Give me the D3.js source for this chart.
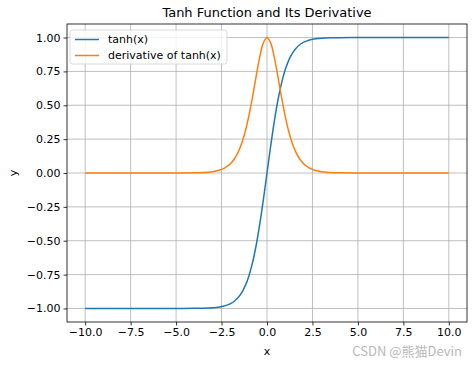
<!DOCTYPE html>
<html>
<head>
<meta charset="utf-8">
<script src="https://cdn.jsdelivr.net/npm/d3@7"></script>
<style>
  body { margin: 0; background: #fff; }
  svg text { font-family: "DejaVu Sans", sans-serif; }
</style>
</head>
<body>
<svg id="chart" width="474" height="365"></svg>
<script>
// values
const xValues = [-10, -9, -8, -7, -6, -5, -4, -3.5, -3, -2.8, -2.6, -2.4, -2.2, -2, -1.8, -1.6, -1.4, -1.2, -1, -0.8, -0.6, -0.4, -0.2,
  0, 0.2, 0.4, 0.6, 0.8, 1, 1.2, 1.4, 1.6, 1.8, 2, 2.2, 2.4, 2.6, 2.8, 3, 3.5, 4, 5, 6, 7, 8, 9, 10];
const tanhValues = [-1, -1, -1, -1, -1, -0.9999, -0.9993, -0.9982, -0.9951, -0.9926, -0.989, -0.9837, -0.9757, -0.964, -0.9468, -0.9217, -0.8854, -0.8337, -0.7616, -0.664, -0.537, -0.3799, -0.1974,
  0, 0.1974, 0.3799, 0.537, 0.664, 0.7616, 0.8337, 0.8854, 0.9217, 0.9468, 0.964, 0.9757, 0.9837, 0.989, 0.9926, 0.9951, 0.9982, 0.9993, 0.9999, 1, 1, 1, 1, 1];
const derivValues = [0, 0, 0, 0, 0, 0.0002, 0.0013, 0.0036, 0.0099, 0.0148, 0.0219, 0.0324, 0.048, 0.0707, 0.1036, 0.1505, 0.2161, 0.305, 0.42, 0.5591, 0.7116, 0.8556, 0.961,
  1, 0.961, 0.8556, 0.7116, 0.5591, 0.42, 0.305, 0.2161, 0.1505, 0.1036, 0.0707, 0.048, 0.0324, 0.0219, 0.0148, 0.0099, 0.0036, 0.0013, 0.0002, 0, 0, 0, 0, 0];
const xTicks = [-10, -7.5, -5, -2.5, 0, 2.5, 5, 7.5, 10];
const yTicks = [-1, -0.75, -0.5, -0.25, 0, 0.25, 0.5, 0.75, 1];
const seriesNames = ["tanh(x)", "derivative of tanh(x)"];
const seriesColors = ["#1f77b4", "#ff7f0e"];

const svg = d3.select("#chart");
const pLeft = 67, pRight = 467, pTop = 24, pBottom = 322;

const x = d3.scaleLinear().domain([-11, 11]).range([pLeft, pRight]);
const y = d3.scaleLinear().domain([-1.1, 1.1]).range([pBottom, pTop]);

// grid
svg.append("g").selectAll("line").data(xTicks).enter().append("line")
    .attr("x1", d => x(d)).attr("x2", d => x(d))
    .attr("y1", pTop).attr("y2", pBottom)
    .attr("stroke", "#b0b0b0").attr("stroke-width", 0.8);
svg.append("g").selectAll("line").data(yTicks).enter().append("line")
    .attr("x1", pLeft).attr("x2", pRight)
    .attr("y1", d => y(d)).attr("y2", d => y(d))
    .attr("stroke", "#b0b0b0").attr("stroke-width", 0.8);

// curves
const series = [tanhValues, derivValues];
const line = d3.line()
    .x((d, i) => x(xValues[i]))
    .y(d => y(d))
    .curve(d3.curveCatmullRom.alpha(0.5));

series.forEach((vals, k) => {
    svg.append("path")
        .attr("d", line(vals))
        .attr("fill", "none")
        .attr("stroke", seriesColors[k])
        .attr("stroke-width", 1.5);
});

// axes
const fmtX = d => d3.format(".1f")(d).replace("-", "\u2212");
const fmtY = d => d3.format(".2f")(d).replace("-", "\u2212");

const xAxis = svg.append("g")
    .attr("transform", `translate(0,${pBottom})`)
    .call(d3.axisBottom(x).tickValues(xTicks).tickFormat(fmtX).tickSizeOuter(0).tickSize(3.5).tickPadding(3));
const yAxis = svg.append("g")
    .attr("transform", `translate(${pLeft},0)`)
    .call(d3.axisLeft(y).tickValues(yTicks).tickFormat(fmtY).tickSizeOuter(0).tickSize(3.5).tickPadding(3));

[xAxis, yAxis].forEach(a => {
    a.select(".domain").remove();
    a.selectAll("line").attr("stroke", "#000").attr("stroke-width", 0.8);
    a.selectAll("text").attr("fill", "#000").style("font-size", "11px");
});

// frame
svg.append("rect")
    .attr("x", pLeft).attr("y", pTop)
    .attr("width", pRight - pLeft).attr("height", pBottom - pTop)
    .attr("fill", "none").attr("stroke", "#000").attr("stroke-width", 0.8);

// labels
svg.append("text")
    .attr("x", (pLeft + pRight) / 2).attr("y", 17)
    .attr("text-anchor", "middle")
    .style("font-size", "13px")
    .text("Tanh Function and Its Derivative");

svg.append("text")
    .attr("x", (pLeft + pRight) / 2).attr("y", 355)
    .attr("text-anchor", "middle")
    .style("font-size", "11px")
    .text("x");

svg.append("text")
    .attr("transform", `translate(17,${(pTop + pBottom) / 2}) rotate(-90)`)
    .attr("text-anchor", "middle")
    .style("font-size", "11px")
    .text("y");

// legend
const legend = svg.append("g").attr("transform", "translate(70,30)");
legend.append("rect")
    .attr("width", 157).attr("height", 34).attr("rx", 2.5)
    .attr("fill", "#fff").attr("fill-opacity", 0.8)
    .attr("stroke", "#d0d0d0").attr("stroke-width", 0.8);
seriesNames.forEach((name, k) => {
    const yy = 9.5 + k * 16;
    legend.append("line")
        .attr("x1", 5).attr("x2", 29).attr("y1", yy).attr("y2", yy)
        .attr("stroke", seriesColors[k]).attr("stroke-width", 1.5);
    legend.append("text")
        .attr("x", 38).attr("y", yy).attr("dy", "0.35em")
        .style("font-size", "11px")
        .text(name);
});

// watermark
svg.append("text")
    .attr("x", 462).attr("y", 356)
    .attr("text-anchor", "end")
    .attr("fill", "#b8b8b8")
    .style("font-size", "13px")
    .style("font-family", "'Noto Sans CJK SC', 'DejaVu Sans', sans-serif")
    .text("CSDN @熊猫Devin");
</script>
</body>
</html>
